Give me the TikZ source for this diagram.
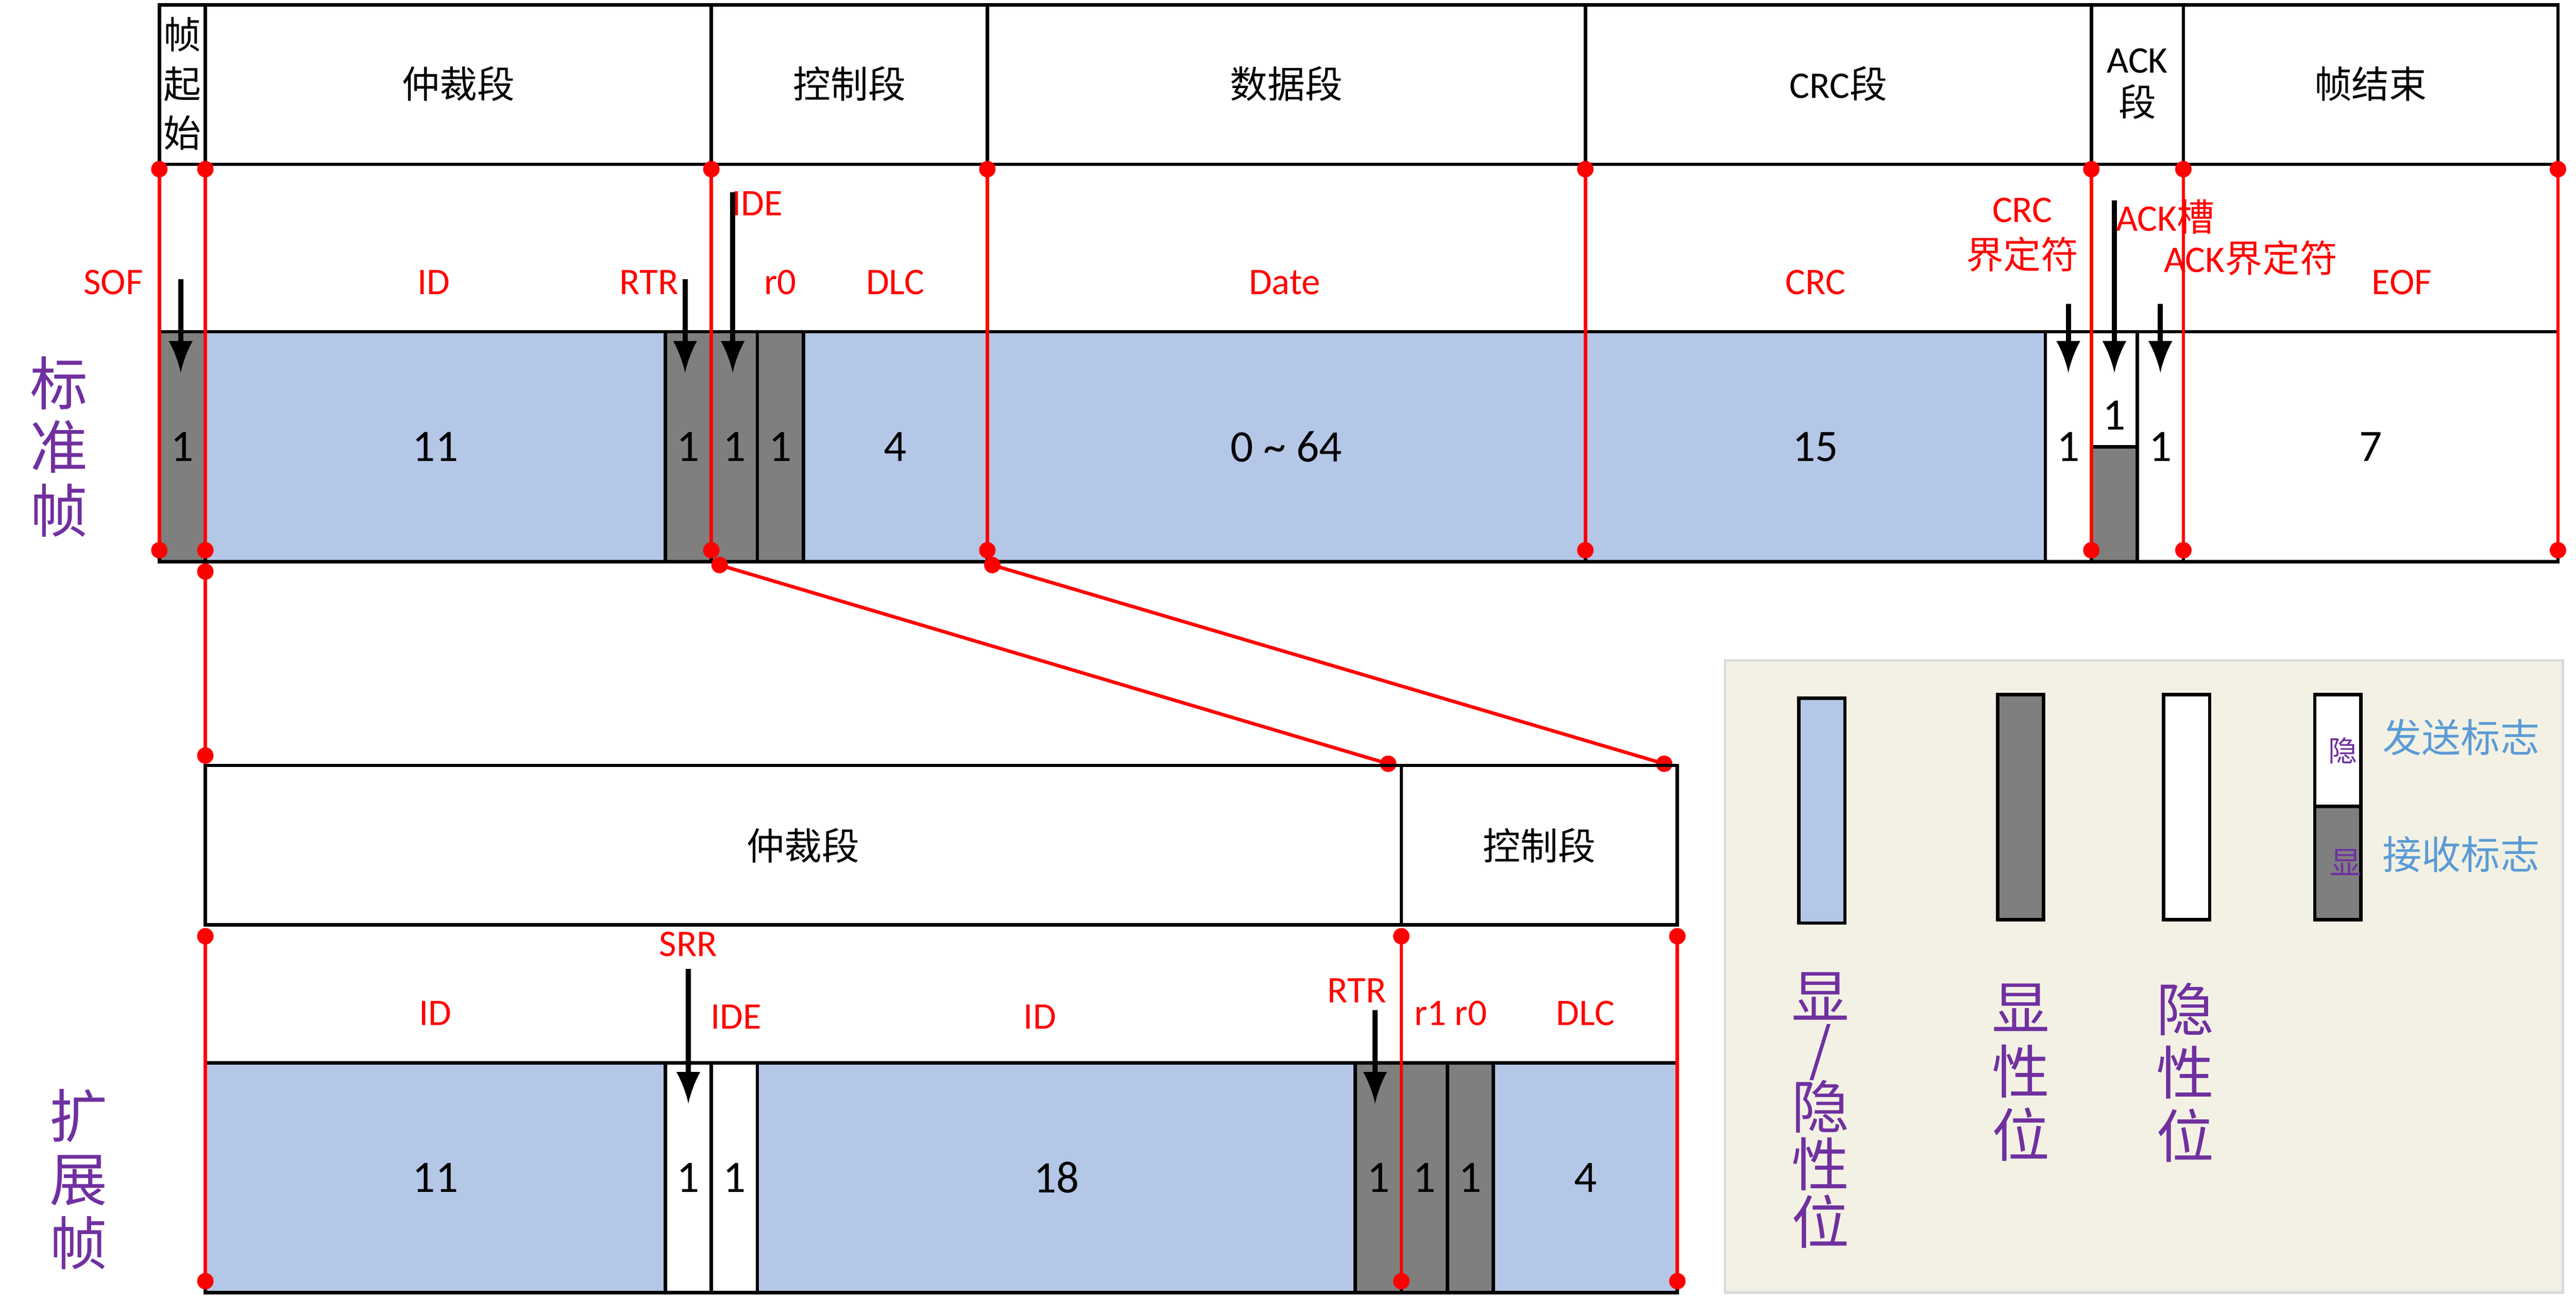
\documentclass[tikz,border=0pt]{standalone}
\usepackage{fontspec}
\setmainfont{Carlito}
\newfontfamily\cjk{Noto Sans CJK SC}
\begin{document}
\begin{tikzpicture}[x=0.01cm,y=-0.01cm,
  bx/.style={draw=black,line width=0.6pt},
  rl/.style={red,line width=0.6pt},
  lbl/.style={red,font=\fontsize{6.5}{7}\selectfont,inner sep=0pt},
  hd/.style={font=\fontsize{6.5}{7.5}\selectfont\cjk,inner sep=0pt,align=center},
  num/.style={font=\fontsize{7.8}{8}\selectfont,inner sep=0pt},
  ar/.style={-latex,line width=0.9pt},
  big/.style={text=purp,font=\fontsize{10}{11}\selectfont\cjk,align=center,inner sep=0pt},
  dot/.style={circle,fill=red,inner sep=0pt,minimum size=0.1cm}]
\definecolor{blu}{HTML}{B4C7E7}\definecolor{gry}{HTML}{7F7F7F}
\definecolor{purp}{HTML}{7030A0}\definecolor{lb}{HTML}{5B9BD5}
\useasboundingbox (0,0) rectangle (1568,800);
\newcommand\cell[7]{\draw[bx,fill=#6] (#2,#4) rectangle (#3,#5);
  \node[num] (#1) at ({(#2+#3)/2},{(#4+#5)/2}) {#7};}
% header top
\foreach \a/\b/\t [count=\i] in {97/125/{帧\\[1pt]起\\[1pt]始},125/433/仲裁段,433/601/控制段,601/965/数据段,965/1273/{\rmfamily CRC}段,1273/1329/{\rmfamily ACK}\\段,1329/1557/帧结束}{
  \draw[bx] (\a,3) rectangle (\b,100);
  \node[hd] (h\i) at ({(\a+\b)/2},51) {\t};}
% top bits
\cell{sof}{97}{125}{202}{342}{gry}{1}
\cell{id}{125}{405}{202}{342}{blu}{11}
\cell{rtr}{405}{433}{202}{342}{gry}{1}
\cell{ide}{433}{461}{202}{342}{gry}{1}
\cell{rz}{461}{489}{202}{342}{gry}{1}
\cell{dlc}{489}{601}{202}{342}{blu}{4}
\cell{dat}{601}{965}{202}{342}{blu}{0 \char126{} 64}
\cell{crc}{965}{1245}{202}{342}{blu}{15}
\cell{crcd}{1245}{1273}{202}{342}{white}{1}
\draw[bx,fill=white] (1273,202) rectangle (1301,272);
\node[num] (acks) at (1287,253) {1};
\draw[bx,fill=gry] (1273,272) rectangle (1301,342);
\cell{ackd}{1301}{1329}{202}{342}{white}{1}
\cell{eof}{1329}{1557}{202}{342}{white}{7}
% red verticals top
\foreach \x [count=\i] in {97,125,433,601,965,1273,1329,1557}{
  \node[dot] (ta\i) at (\x,103) {}; \node[dot] (tb\i) at (\x,335) {};
  \draw[rl] (ta\i.center) -- (tb\i.center);}
% labels top
\node[lbl] (lsof) at (69,172) {SOF};
\node[lbl] (lid) at (264,172) {ID};
\node[lbl] (lrtr) at (395,172) {RTR};
\node[lbl] (lide) at (461,124) {IDE};
\node[lbl] (lr0) at (475,172) {r0};
\node[lbl] (ldlc) at (545,172) {DLC};
\node[lbl] (ldat) at (782,172) {Date};
\node[lbl] (lcrc) at (1105,172) {CRC};
\node[lbl,align=center] (lcrcd) at (1231,143) {CRC\\[1pt]{\cjk 界定符}};
\node[lbl] (lacks) at (1318,132) {ACK{\cjk 槽}};
\node[lbl] (lackd) at (1370,157) {ACK{\cjk 界定符}};
\node[lbl] (leof) at (1462,172) {EOF};
\coordinate (c1) at (110,170); \coordinate (c2) at (417,170); \coordinate (c3) at (446,117);
\coordinate (c4) at (1259,185); \coordinate (c5) at (1287,122); \coordinate (c6) at (1315,185);
\draw[ar] (c1) -- (110,227); \draw[ar] (c2) -- (417,227); \draw[ar] (c3) -- (446,227);
\draw[ar] (c4) -- (1259,227); \draw[ar] (c5) -- (1287,227); \draw[ar] (c6) -- (1315,227);
\node[big] (std) at (36,272) {标\\准\\帧};
% connections
\node[dot] (d1) at (125,348) {}; \node[dot] (d2) at (125,460) {};
\node[dot] (d3) at (438,344) {}; \node[dot] (d4) at (845,465) {};
\node[dot] (d5) at (604,344) {}; \node[dot] (d6) at (1013,465) {};
\draw[rl] (d1.center) -- (d2.center); \draw[rl] (d3.center) -- (d4.center); \draw[rl] (d5.center) -- (d6.center);
% lower header
\draw[bx] (125,466) rectangle (853,563); \node[hd] (eh1) at (489,515) {仲裁段};
\draw[bx] (853,466) rectangle (1021,563); \node[hd] (eh2) at (937,515) {控制段};
% lower bits
\cell{eid}{125}{405}{647}{787}{blu}{11}
\cell{srr}{405}{433}{647}{787}{white}{1}
\cell{eide}{433}{461}{647}{787}{white}{1}
\cell{eid2}{461}{825}{647}{787}{blu}{18}
\cell{ertr}{825}{853}{647}{787}{gry}{1}
\cell{er1}{853}{881}{647}{787}{gry}{1}
\cell{er0}{881}{909}{647}{787}{gry}{1}
\cell{edlc}{909}{1021}{647}{787}{blu}{4}
\foreach \x [count=\i] in {125,853,1021}{
  \node[dot] (ea\i) at (\x,570) {}; \node[dot] (eb\i) at (\x,780) {};
  \draw[rl] (ea\i.center) -- (eb\i.center);}
\node[lbl] (mid) at (265,617) {ID};
\node[lbl] (msrr) at (419,575) {SRR};
\node[lbl] (mide) at (448,619) {IDE};
\node[lbl] (mid2) at (633,619) {ID};
\node[lbl] (mrtr) at (826,603) {RTR};
\node[lbl] (mr) at (883,617) {r1 r0};
\node[lbl] (mdlc) at (965,617) {DLC};
\coordinate (c7) at (419,590); \coordinate (c8) at (837,615);
\draw[ar] (c7) -- (419,672); \draw[ar] (c8) -- (837,672);
\node[big] (ext) at (48,718) {扩\\展\\帧};
% legend
\draw[fill={rgb,255:red,243;green,241;blue,228},draw=black!15] (1050,402) rectangle (1560,787);
\draw[bx,fill=blu] (1095,425) rectangle (1123,562);
\draw[bx,fill=gry] (1216,423) rectangle (1244,560);
\draw[bx,fill=white] (1317,423) rectangle (1345,560);
\draw[bx,fill=white] (1409,423) rectangle (1437,491);
\draw[bx,fill=gry] (1409,491) rectangle (1437,560);
\node[big,font=\fontsize{5}{5}\selectfont\cjk] (ly) at (1426,457) {隐};
\node[big,font=\fontsize{5.5}{5}\selectfont\cjk] (lx) at (1428,525) {显};
\node[hd,lb,font=\fontsize{6.8}{7}\selectfont\cjk] (ls) at (1498,449) {发送标志};
\node[hd,lb,font=\fontsize{6.8}{7}\selectfont\cjk] (lr) at (1498,520) {接收标志};
\node[big,font=\fontsize{10}{10}\selectfont\cjk] (l1) at (1108,676) {显\\[-1pt]/\\[-1pt]隐\\性\\位};
\node[big] (l2) at (1230,653) {显\\性\\位};
\node[big] (l3) at (1330,653) {隐\\性\\位};
\end{tikzpicture}
\end{document}
